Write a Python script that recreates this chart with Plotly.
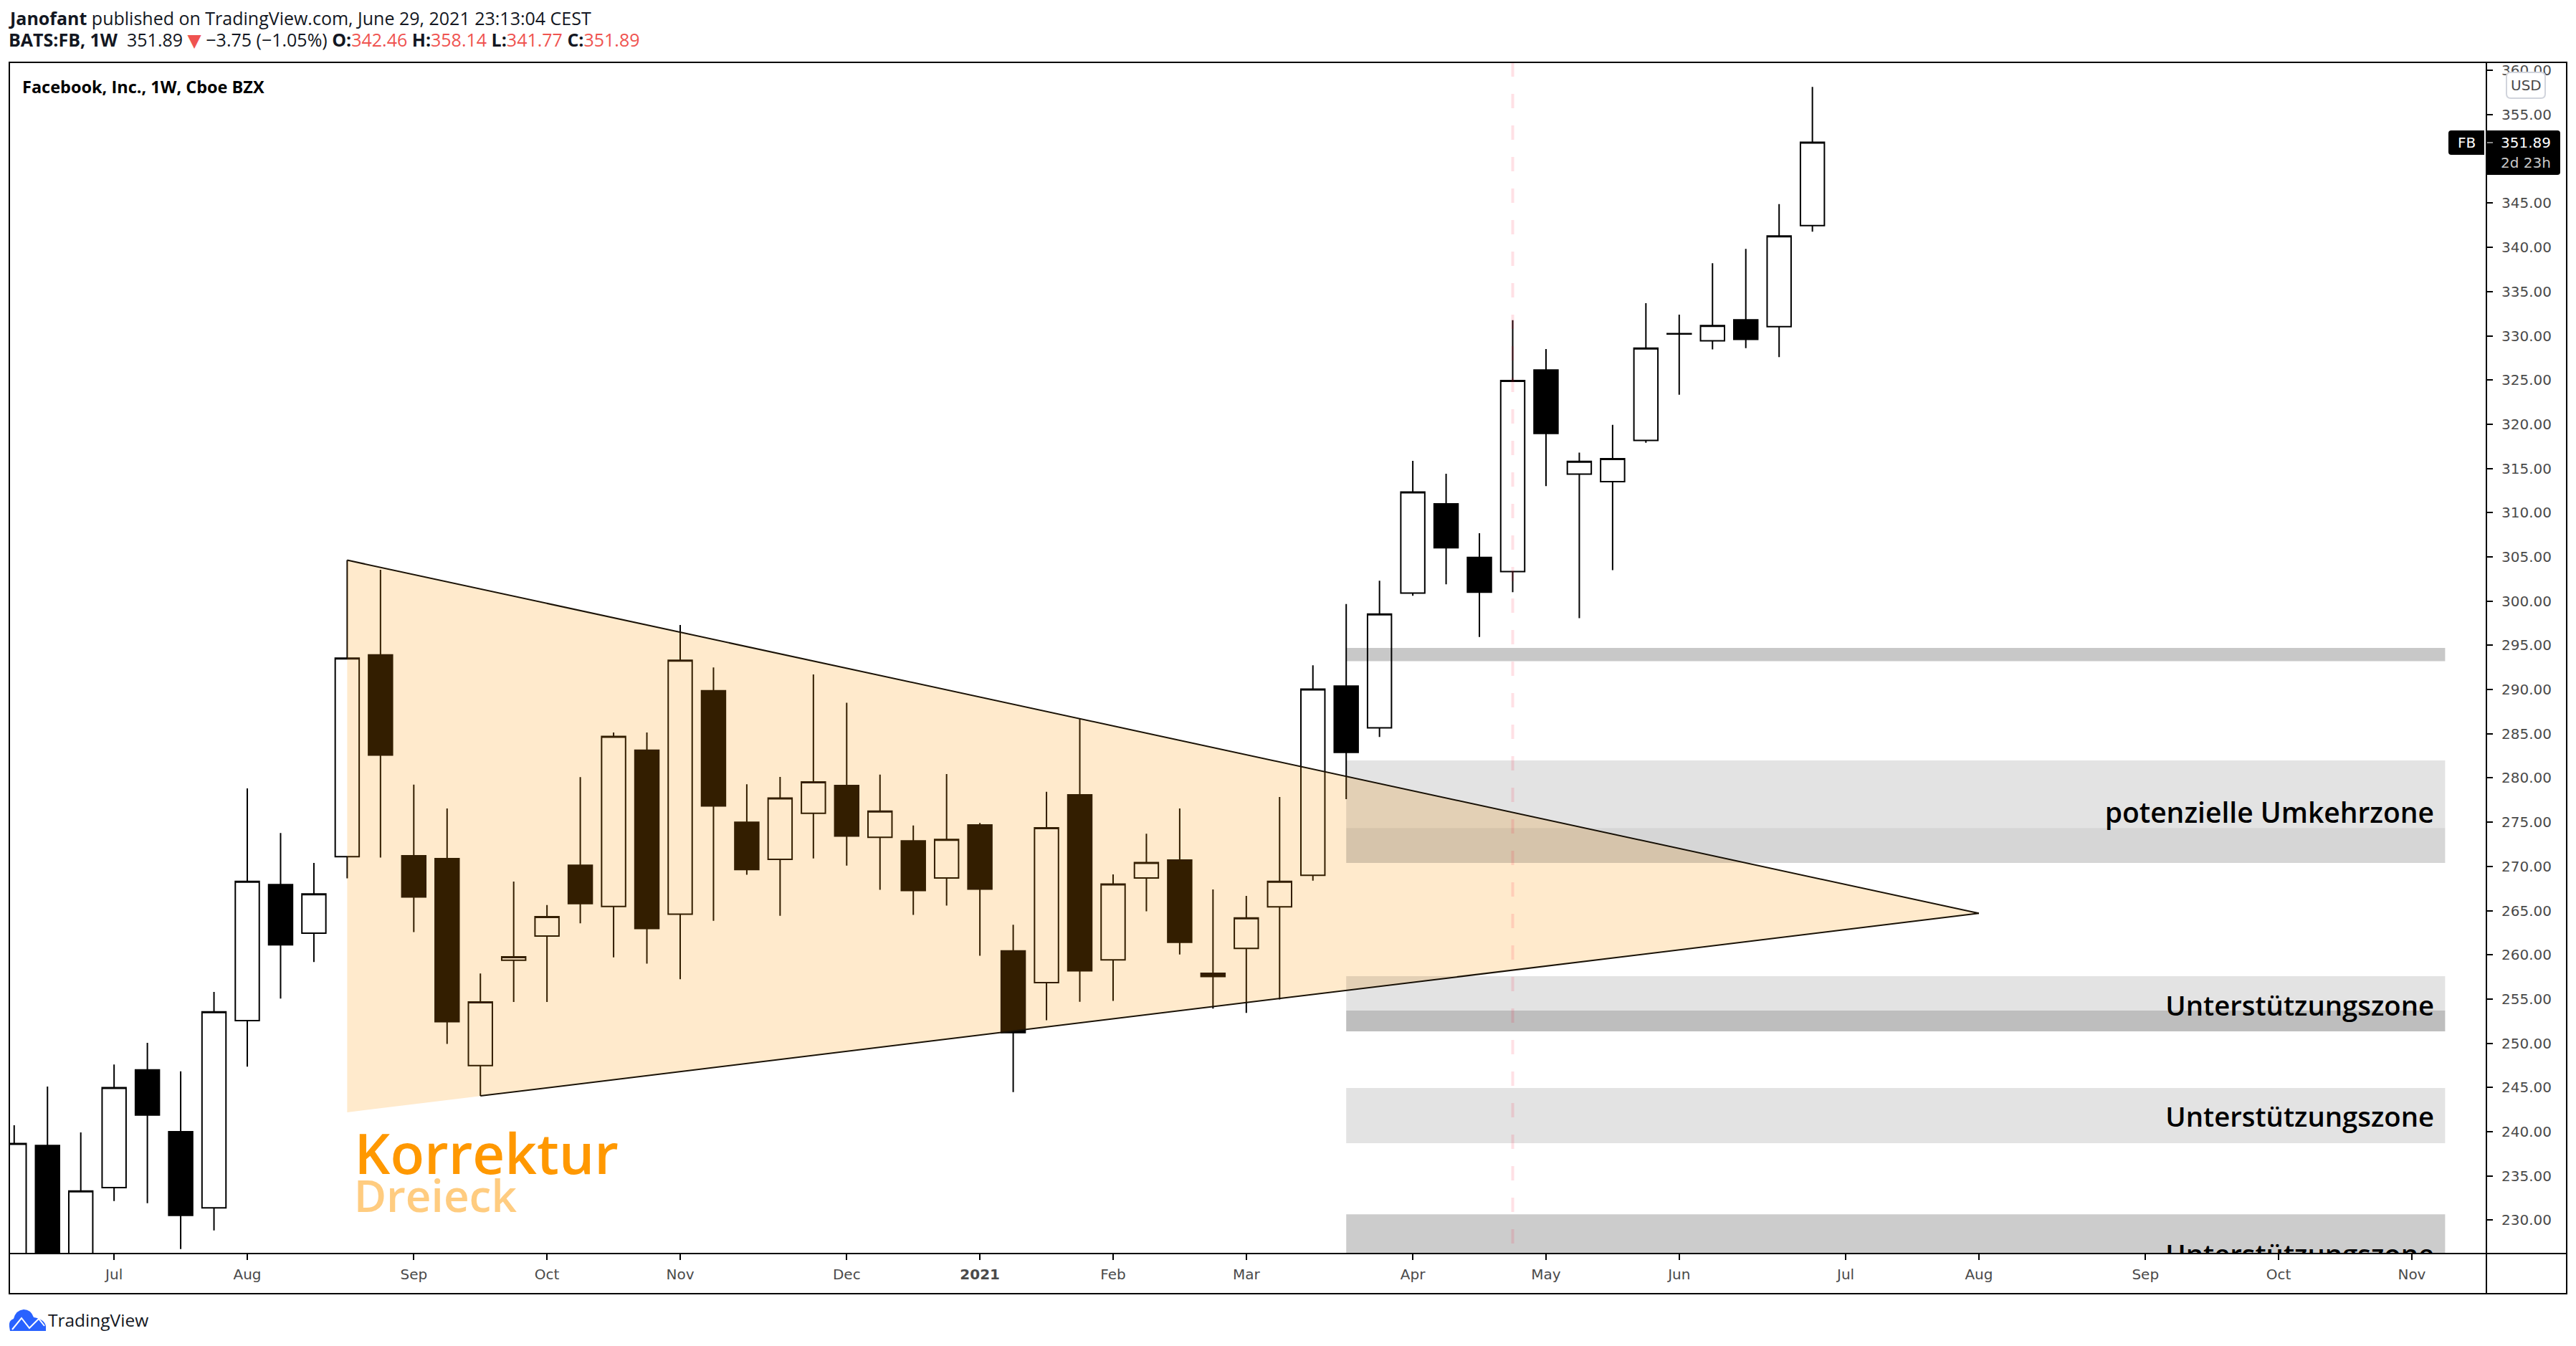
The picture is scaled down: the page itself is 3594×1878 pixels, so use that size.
import plotly.graph_objects as go

# ---- data -----------------------------------------------------------------
candle_open = [224.0, 238.44, 224.0, 233.69, 247.0, 240.0, 231.4, 252.57, 267.95, 262.45,
               271.1, 293.92, 271.2, 270.89, 247.48, 259.39, 262.12, 270.14, 265.47, 283.13,
               264.6, 289.87, 275.0, 270.8, 276.0, 279.15, 273.3, 272.89, 268.7, 274.7,
               260.44, 256.86, 278.1, 259.43, 268.7, 270.72, 257.91, 260.73, 265.44, 269.0,
               290.4, 285.67, 300.91, 310.99, 304.94, 303.34, 326.13, 314.35, 313.5, 318.17,
               330.2, 329.44, 331.8, 331.04, 342.46]
candle_high = [240.74, 245.11, 239.93, 247.6, 250.05, 246.83, 255.8, 278.83, 273.78, 270.39,
               304.63, 303.55, 279.24, 276.55, 257.9, 268.28, 265.64, 280.1, 285.15, 285.15,
               297.3, 292.5, 279.3, 280.13, 291.7, 288.5, 280.38, 274.63, 280.45, 274.92,
               263.41, 278.43, 286.7, 269.09, 273.7, 276.55, 267.4, 266.67, 277.85, 292.75,
               299.67, 302.3, 315.85, 314.4, 307.68, 331.77, 328.5, 316.8, 319.93, 333.68,
               332.4, 338.2, 339.83, 344.9, 358.14]
candle_low = [222.0, 221.0, 223.0, 232.17, 231.93, 226.74, 228.85, 247.36, 255.05, 259.19,
              268.66, 271.01, 262.57, 249.93, 244.05, 254.68, 254.68, 263.57, 259.72, 259.02,
              257.25, 263.86, 269.06, 264.42, 270.9, 270.1, 267.35, 264.53, 265.58, 259.9,
              244.49, 252.6, 254.7, 254.8, 264.93, 260.05, 253.93, 253.43, 254.95, 268.4,
              277.6, 284.63, 300.6, 301.9, 295.95, 301.0, 313.0, 298.07, 303.5, 317.9,
              323.34, 328.46, 328.6, 327.58, 341.77]
candle_close = [238.66, 224.5, 233.31, 245.0, 241.9, 230.55, 253.56, 268.3, 261.13, 266.9,
                293.55, 282.59, 266.55, 252.45, 254.68, 259.77, 264.31, 265.8, 284.7, 262.99,
                293.3, 276.84, 269.64, 277.74, 279.55, 273.43, 276.26, 267.28, 273.04, 267.43,
                251.22, 274.37, 258.2, 268.0, 270.43, 261.42, 257.55, 264.17, 268.3, 290.04,
                282.9, 298.53, 312.33, 306.03, 301.0, 324.94, 318.95, 315.8, 316.1, 328.6,
                330.25, 331.15, 329.6, 341.28, 351.89]
candle_index = list(range(len(candle_open)))

month_index = [3, 7, 12, 16, 20, 25, 29, 33, 37, 42, 46, 50, 55, 59, 64, 68, 72]
month_labels = ["Jul", "Aug", "Sep", "Oct", "Nov", "Dec", "<b>2021</b>", "Feb", "Mar", "Apr",
                "May", "Jun", "Jul", "Aug", "Sep", "Oct", "Nov"]
price_ticks = [230, 235, 240, 245, 250, 255, 260, 265, 270, 275, 280, 285, 290, 295,
               300, 305, 310, 315, 320, 325, 330, 335, 340, 345, 350, 355, 360]
price_labels = ["230.00", "235.00", "240.00", "245.00", "250.00", "255.00", "260.00", "265.00",
                "270.00", "275.00", "280.00", "285.00", "290.00", "295.00", "300.00", "305.00",
                "310.00", "315.00", "320.00", "325.00", "330.00", "335.00", "340.00", "345.00",
                "350.00", "355.00", "360.00"]

triangle_index = [10, 59, 10]
triangle_price = [304.63, 264.7, 242.2]
upper_line_index = [10, 59]
upper_line_price = [304.63, 264.7]
lower_line_index = [14, 59]
lower_line_price = [244.05, 264.7]

zone_start = 40
zone_end = 73
light_low = [274.35, 251.35, 238.7]
light_high = [281.99, 257.6, 244.95]
strip_low = [293.2, 270.4, 251.35, 224.4]
strip_high = [294.7, 274.35, 253.7, 230.66]
strip_alpha = [0.215, 0.16, 0.16, 0.2]
marker_index = 45

zone_label_index = [72.67, 72.67, 72.67, 72.67]
zone_label_price = [275.7, 253.88, 241.33, 225.83]
zone_labels = ["potenzielle Umkehrzone", "Unterstützungszone", "Unterstützungszone", "Unterstützungszone"]
zone_label_size = [39, 38.3, 38.3, 38.3]

price_min, price_max = 226.23, 360.916
index_min, index_max = -0.146, 74.24

# ---- layout geometry ------------------------------------------------------
W, H = 3594, 1878
L, R, T, B = 13, 3469, 87, 1749
OUT_R, OUT_B = 3581, 1805


def px(x):
    return (x - L) / (R - L)


def py(y):
    return (B - y) / (B - T)


def pt(x, y):
    return f"{px(x):.6f},{py(y):.6f}"


fig = go.Figure()

fig.add_trace(go.Candlestick(
    x=candle_index, open=candle_open, high=candle_high, low=candle_low, close=candle_close,
    increasing=dict(line=dict(color="#000000", width=2), fillcolor="#ffffff"),
    decreasing=dict(line=dict(color="#000000", width=2), fillcolor="#000000"),
    hoverinfo="skip", showlegend=False,
))

fig.add_trace(go.Scatter(
    x=triangle_index, y=triangle_price, mode="none", fill="toself",
    fillcolor="rgba(255,152,0,0.2)", hoverinfo="skip", showlegend=False,
))
for xs, ys in ((upper_line_index, upper_line_price), (lower_line_index, lower_line_price)):
    fig.add_trace(go.Scatter(x=xs, y=ys, mode="lines", line=dict(color="#1a1206", width=2),
                             hoverinfo="skip", showlegend=False))

fig.add_trace(go.Scatter(
    x=zone_label_index, y=zone_label_price, mode="text", text=zone_labels,
    textposition="middle left",
    textfont=dict(family="Open Sans", size=zone_label_size, color="#000000", weight=600),
    cliponaxis=True, hoverinfo="skip", showlegend=False,
))
fig.add_trace(go.Scatter(
    x=[10.22], y=[236.83], mode="text", text=["Korrektur"], textposition="middle right",
    textfont=dict(family="Open Sans", size=78, color="#FF9800", weight=600),
    hoverinfo="skip", showlegend=False,
))
fig.add_trace(go.Scatter(
    x=[10.2], y=[232.22], mode="text", text=["Dreieck"], textposition="middle right",
    textfont=dict(family="Open Sans", size=62, color="#FFCC80", weight=600),
    hoverinfo="skip", showlegend=False,
))

shapes = []
for lo, hi in zip(light_low, light_high):
    shapes.append(dict(type="rect", xref="x", yref="y", x0=zone_start, x1=zone_end, y0=lo, y1=hi,
                       fillcolor="rgba(0,0,0,0.11)", line_width=0, layer="above"))
for lo, hi, a in zip(strip_low, strip_high, strip_alpha):
    shapes.append(dict(type="rect", xref="x", yref="y", x0=zone_start, x1=zone_end, y0=lo, y1=hi,
                       fillcolor=f"rgba(0,0,0,{a})", line_width=0, layer="above"))
shapes.append(dict(type="line", xref="x", yref="y", x0=marker_index, x1=marker_index,
                   y0=price_max, y1=price_min, layer="above",
                   line=dict(color="rgba(255,0,40,0.12)", width=4, dash="20px,24px")))

# frame
line = dict(color="#000000", width=2)
shapes.append(dict(type="rect", xref="paper", yref="paper", x0=px(L), x1=px(OUT_R), y0=py(OUT_B), y1=py(T),
                   line=line, layer="above"))
shapes.append(dict(type="line", xref="paper", yref="paper", x0=px(L), x1=px(OUT_R), y0=py(B), y1=py(B),
                   line=line, layer="above"))
shapes.append(dict(type="line", xref="paper", yref="paper", x0=px(R), x1=px(R), y0=py(OUT_B), y1=py(T),
                   line=line, layer="above"))

# USD badge
x0, x1, y0, y1, r = 3497, 3551, 101, 137, 6
shapes.append(dict(type="path", xref="paper", yref="paper", layer="above",
                   path=(f"M {pt(x0 + r, y0)} L {pt(x1 - r, y0)} Q {pt(x1, y0)} {pt(x1, y0 + r)} "
                         f"L {pt(x1, y1 - r)} Q {pt(x1, y1)} {pt(x1 - r, y1)} L {pt(x0 + r, y1)} "
                         f"Q {pt(x0, y1)} {pt(x0, y1 - r)} L {pt(x0, y0 + r)} Q {pt(x0, y0)} {pt(x0 + r, y0)} Z"),
                   fillcolor="#ffffff", line=dict(color="#D1D4DC", width=2)))
# FB tag
x0, x1, y0, y1, r = 3416, 3466, 182, 216, 4
shapes.append(dict(type="path", xref="paper", yref="paper", layer="above",
                   path=(f"M {pt(x1, y0)} L {pt(x1, y1)} L {pt(x0 + r, y1)} Q {pt(x0, y1)} {pt(x0, y1 - r)} "
                         f"L {pt(x0, y0 + r)} Q {pt(x0, y0)} {pt(x0 + r, y0)} Z"),
                   fillcolor="#000000", line_width=0))
# price tag
x0, x1, y0, y1, r = 3470, 3572, 182, 244, 4
shapes.append(dict(type="path", xref="paper", yref="paper", layer="above",
                   path=(f"M {pt(x0, y0)} L {pt(x1 - r, y0)} Q {pt(x1, y0)} {pt(x1, y0 + r)} "
                         f"L {pt(x1, y1 - r)} Q {pt(x1, y1)} {pt(x1 - r, y1)} L {pt(x0, y1)} Z"),
                   fillcolor="#000000", line_width=0))
shapes.append(dict(type="line", xref="paper", yref="paper", x0=px(3470), x1=px(3478), y0=py(199), y1=py(199),
                   line=dict(color="#888888", width=2), layer="above"))
# logo
shapes.append(dict(type="path", xref="paper", yref="paper", layer="above",
                   path=(f"M {pt(13, 1851)} Q {pt(12, 1842)} {pt(19, 1840)} Q {pt(22, 1828)} {pt(33, 1827)} "
                         f"Q {pt(43, 1827)} {pt(47, 1838)} Q {pt(63, 1841)} {pt(64, 1851)} L {pt(64, 1857)} "
                         f"L {pt(14, 1857)} Z"),
                   fillcolor="#2962FF", line_width=0))
shapes.append(dict(type="path", xref="paper", yref="paper", layer="above",
                   path=f"M {pt(17, 1855)} L {pt(30, 1839)} L {pt(41, 1853)} L {pt(54, 1840)} L {pt(62, 1850)}",
                   line=dict(color="#ffffff", width=2)))


def note(text, x, y, size, color="#131722", family="Open Sans", xanchor="left", weight=None):
    font = dict(family=family, size=size, color=color)
    if weight:
        font["weight"] = weight
    return dict(text=text, xref="paper", yref="paper", x=px(x), y=py(y), xanchor=xanchor, yanchor="middle",
                showarrow=False, font=font, align="left", borderpad=0, borderwidth=0)


RED = "#EF5350"
line2 = ("<b>BATS:FB, 1W</b>&nbsp;&nbsp;351.89&nbsp;"
         f"<span style='color:{RED};font-family:DejaVu Sans'>▼</span> −3.75 (−1.05%) "
         f"<b>O:</b><span style='color:{RED}'>342.46</span> "
         f"<b>H:</b><span style='color:{RED}'>358.14</span> "
         f"<b>L:</b><span style='color:{RED}'>341.77</span> "
         f"<b>C:</b><span style='color:{RED}'>351.89</span>")
annotations = [
    note("<b>Janofant</b> published on TradingView.com, June 29, 2021 23:13:04 CEST", 12, 25, 25),
    note(line2, 12, 55, 25),
    note("<b>Facebook, Inc., 1W, Cboe BZX</b>", 31, 121, 23.5, color="#000000"),
    note("USD", 3524, 119, 20, color="#4a4a4a", family="DejaVu Sans", xanchor="center"),
    note("FB", 3441, 199, 20, color="#ffffff", family="DejaVu Sans", xanchor="center"),
    note("351.89", 3524, 199, 20, color="#ffffff", family="DejaVu Sans", xanchor="center"),
    note("2d 23h", 3524, 227, 20, color="#c8c8c8", family="DejaVu Sans", xanchor="center"),
    note("TradingView", 67, 1841, 24.5),
]

fig.update_layout(
    width=W, height=H, autosize=False,
    margin=dict(l=L, r=W - R, t=T, b=H - B, pad=0, autoexpand=False),
    paper_bgcolor="#ffffff", plot_bgcolor="#ffffff",
    showlegend=False, boxgap=0.28, boxgroupgap=0,
    shapes=shapes, annotations=annotations, dragmode=False,
    xaxis=dict(type="linear", range=[index_min, index_max], rangeslider=dict(visible=False),
               tickmode="array", tickvals=month_index, ticktext=month_labels,
               ticks="outside", ticklen=8, tickwidth=2, tickcolor="#000000",
               showgrid=False, zeroline=False, showline=False, ticklabelstandoff=3,
               tickfont=dict(family="DejaVu Sans", size=20, color="#4a4a4a")),
    yaxis=dict(side="right", range=[price_min, price_max], tickmode="array",
               tickvals=price_ticks, ticktext=price_labels,
               ticks="outside", ticklen=8, tickwidth=2, tickcolor="#000000",
               showgrid=False, zeroline=False, showline=False, ticklabelstandoff=8,
               tickfont=dict(family="DejaVu Sans", size=20, color="#4a4a4a")),
)

fig.write_html("out.html", config=dict(displayModeBar=False),
               post_script="document.body.style.margin='0';document.body.style.overflow='hidden';")
